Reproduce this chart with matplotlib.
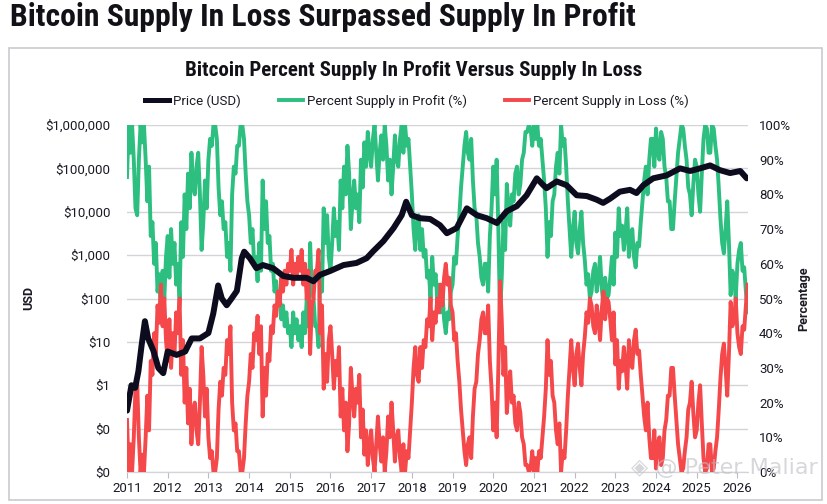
import numpy as np
import matplotlib
matplotlib.use("Agg")
import matplotlib.pyplot as plt
from matplotlib import font_manager
from matplotlib.patches import Rectangle
from matplotlib.ticker import FixedLocator, FixedFormatter

plt.rcParams['font.family'] = ['Roboto', 'DejaVu Sans']

# --- datos ---
# % supply in profit, cada media luna desde ene-2011
profit = [
    85, 100, 92, 100, 90, 76, 74, 90, 100, 95, 100, 90, 78, 88, 68, 72, 60, 66, 52, 57, 46, 58, 50, 62,   # 2011
    68, 56, 70, 60, 66, 54, 60, 50, 72, 62, 80, 70, 86, 76, 92, 82, 80, 88, 92, 80, 64, 72, 84, 76,       # 2012
    90, 96, 94, 100, 100, 96, 82, 74, 78, 70, 72, 62, 66, 58, 80, 88, 86, 94, 94, 100, 100, 96, 86, 78,   # 2013
    74, 66, 70, 60, 62, 55, 66, 58, 84, 70, 78, 66, 68, 58, 60, 52, 55, 48, 52, 44, 48, 42, 46, 40,       # 2014
    42, 36, 46, 40, 44, 38, 42, 36, 46, 40, 50, 42, 66, 52, 50, 42, 42, 36, 60, 52, 76, 66, 74, 62,       # 2015
    58, 66, 76, 68, 72, 64, 84, 76, 88, 80, 94, 86, 70, 78, 84, 76, 80, 72, 90, 82, 95, 88, 98, 92,       # 2016
    88, 96, 100, 92, 84, 92, 97, 90, 100, 94, 84, 90, 80, 88, 97, 90, 88, 96, 100, 92, 100, 94, 96, 88,   # 2017
    80, 70, 64, 72, 74, 64, 70, 62, 64, 56, 58, 50, 62, 54, 57, 50, 54, 46, 52, 44, 40, 46, 44, 52,       # 2018
    54, 62, 60, 68, 74, 82, 88, 94, 98, 92, 90, 96, 84, 76, 74, 66, 62, 56, 54, 60, 60, 52, 68, 76,       # 2019
    88, 80, 90, 70, 45, 56, 72, 64, 83, 76, 71, 80, 78, 86, 88, 80, 83, 90, 92, 98, 98, 100, 99, 94,      # 2020
    100, 96, 100, 94, 96, 90, 84, 76, 62, 72, 68, 78, 80, 88, 92, 86, 100, 94, 96, 88, 78, 70, 62, 70,    # 2021
    75, 66, 63, 70, 75, 66, 61, 54, 57, 50, 52, 58, 60, 52, 56, 62, 53, 48, 56, 50, 51, 56, 62, 54,       # 2022
    69, 62, 76, 68, 71, 64, 69, 76, 62, 68, 70, 62, 59, 66, 65, 72, 78, 84, 88, 80, 90, 96, 96, 88,       # 2023
    99, 92, 90, 98, 96, 88, 85, 78, 78, 70, 70, 78, 85, 92, 96, 100, 99, 94, 90, 82, 80, 74, 83, 90,      # 2024
    88, 80, 75, 86, 96, 100, 99, 92, 92, 100, 99, 94, 90, 82, 73, 66, 63, 70, 78, 66, 51, 58, 56, 50,     # 2025
    60, 64, 66, 58, 59, 52, 46,                                                                           # 2026
]
profit_years = 2011 + np.arange(len(profit)) / 24.0
# supply in loss = resto de la oferta
loss = [100 - p for p in profit]

price_years = [
    2011.0, 2011.11, 2011.2, 2011.28, 2011.36, 2011.44, 2011.52, 2011.65, 2011.77, 2011.89,
    2012.0, 2012.22, 2012.43, 2012.59, 2012.79, 2013.0, 2013.12, 2013.24, 2013.33, 2013.45,
    2013.57, 2013.7, 2013.82, 2013.88, 2014.02, 2014.18, 2014.34, 2014.59, 2014.84, 2015.09,
    2015.41, 2015.58, 2015.74, 2015.99, 2016.32, 2016.64, 2016.89, 2017.05, 2017.3, 2017.55,
    2017.75, 2017.86, 2018.0, 2018.2, 2018.45, 2018.69, 2018.86, 2019.1, 2019.35, 2019.6,
    2019.84, 2020.09, 2020.33, 2020.58, 2020.82, 2021.07, 2021.23, 2021.31, 2021.56, 2021.8,
    2022.05, 2022.3, 2022.54, 2022.7, 2022.87, 2023.11, 2023.36, 2023.52, 2023.69, 2023.93,
    2024.26, 2024.59, 2024.84, 2025.08, 2025.33, 2025.57, 2025.82, 2026.07, 2026.23,
]
price = [
    0.26, 1.0, 0.87, 2.1, 8.5, 30, 12, 6.2, 2.5, 1.9,
    6, 5, 6, 12, 12, 16, 45, 200, 100, 70,
    100, 150, 850, 1200, 850, 500, 590, 500, 330, 300,
    300, 250, 350, 430, 590, 660, 850, 1230, 2100, 4200,
    8300, 17000, 8300, 7100, 6800, 4900, 3200, 4200, 12000, 8300,
    7100, 5500, 10200, 13500, 24000, 59000, 41000, 35000, 50000, 41000,
    24000, 23000, 19000, 16000, 20000, 29000, 32000, 27000, 41000, 59000,
    69000, 100000, 87000, 100000, 117000, 91000, 78000, 87000, 59000,
]

usd_ticks = [0.01, 0.1, 1, 10, 100, 1000, 10000, 100000, 1000000]
usd_labels = ['$0', '$0', '$1', '$10', '$100', '$1,000', '$10,000', '$100,000', '$1,000,000']
pct_ticks = list(range(0, 101, 10))
pct_labels = [f'{t}%' for t in pct_ticks]
year_ticks = list(range(2011, 2027))

C_PRICE = '#0c0c1e'
C_PROFIT = '#2dbf80'
C_LOSS = '#f4484b'
TXT = '#1a1a24'

# fuente estrecha para los titulos, la que haya
installed = {f.name for f in font_manager.fontManager.ttflist}
narrow = 'Roboto'
for cand in ['Liberation Sans Narrow', 'Roboto Condensed', 'Open Sans Condensed', 'DejaVu Sans Condensed']:
    if cand in installed:
        narrow = cand
        break

fig = plt.figure(figsize=(8.28, 5.04), dpi=100)
W, H = 828, 504

# marco del panel
fig.patches.append(Rectangle((9 / W, 1 - 500 / H), 813 / W, 452 / H, transform=fig.transFigure,
                             facecolor='none', edgecolor='#c9c9cf', linewidth=1.2))

t1 = fig.text(10 / W, 1 - 17 / H, 'Bitcoin Supply In Loss Surpassed Supply In Profit',
              family=[narrow, 'DejaVu Sans'], fontweight='bold',
              fontsize=20, color='#111118', va='center', ha='left')
t2 = fig.text(414 / W, 1 - 71 / H, 'Bitcoin Percent Supply In Profit Versus Supply In Loss',
              family=[narrow, 'DejaVu Sans'], fontweight='bold',
              fontsize=13, color='#111118', va='center', ha='center')

# ajustar el ancho de los titulos al de la imagen
r = fig.canvas.get_renderer()
for t, target in ((t1, 625), (t2, 453)):
    w = t.get_window_extent(renderer=r).width
    t.set_fontsize(t.get_fontsize() * target / w)

ax = fig.add_axes([127 / W, 1 - 472 / H, 621 / W, 347 / H])
ax2 = ax.twinx()

ax.set_yscale('log')
ax.set_ylim(0.01, 1000000)
ax.set_xlim(2011, 2026.26)
ax.yaxis.set_major_locator(FixedLocator(usd_ticks))
ax.yaxis.set_major_formatter(FixedFormatter(usd_labels))
ax.yaxis.set_minor_locator(FixedLocator([]))
ax.set_xticks(year_ticks)
ax.set_xticklabels([str(y) for y in year_ticks])
ax.grid(axis='y', color='#d3d3da', linewidth=1)
ax.set_axisbelow(True)

ax2.set_ylim(0, 100)
ax2.set_yticks(pct_ticks)
ax2.set_yticklabels(pct_labels)

for a in (ax, ax2):
    for s in ('top', 'left', 'right'):
        a.spines[s].set_visible(False)
    a.spines['bottom'].set_color('#d3d3da')
ax.tick_params(axis='y', length=0, labelsize=9.5, labelcolor=TXT, pad=12)
ax.tick_params(axis='x', length=4, color='#bcbcc4', labelsize=9.5, labelcolor=TXT, pad=3)
ax2.tick_params(axis='y', length=0, labelsize=9.5, labelcolor=TXT, pad=8)

ax.set_ylabel('USD', fontweight='bold', fontsize=9, color=TXT, labelpad=7)
ax2.set_ylabel('Percentage', fontweight='bold', fontsize=9, color=TXT, labelpad=4)

ax2.plot(profit_years, profit, color=C_PROFIT, linewidth=2.8,
         label='Percent Supply in Profit (%)', zorder=2)
ax2.plot(profit_years, loss, color=C_LOSS, linewidth=2.8,
         label='Percent Supply in Loss (%)', zorder=3)
ax2.plot([], [], color=C_PRICE, linewidth=3.6, label='Price (USD)')

# precio encima de todo, en su propio eje log
ax3 = fig.add_axes(ax.get_position(), sharex=ax)
ax3.set_yscale('log')
ax3.set_ylim(0.01, 1000000)
ax3.axis('off')
ax3.patch.set_visible(False)
ax3.plot(price_years, price, color=C_PRICE, linewidth=4.3, solid_capstyle='round')

h, l = ax2.get_legend_handles_labels()
order = [2, 0, 1]
fig.legend([h[i] for i in order], [l[i] for i in order], loc='center',
           bbox_to_anchor=(417 / W, 1 - 101 / H), ncol=3, frameon=False,
           fontsize=9.5, handlelength=1.8, handletextpad=0.3, columnspacing=2.9,
           labelcolor=TXT)

fig.text(818 / W, 1 - 468 / H, '◈ @ Peter Maliar', fontsize=16, color='#bdbdc4',
         alpha=0.6, ha='right', va='center', family=['DejaVu Sans'])

fig.savefig('out.png', dpi=100)
